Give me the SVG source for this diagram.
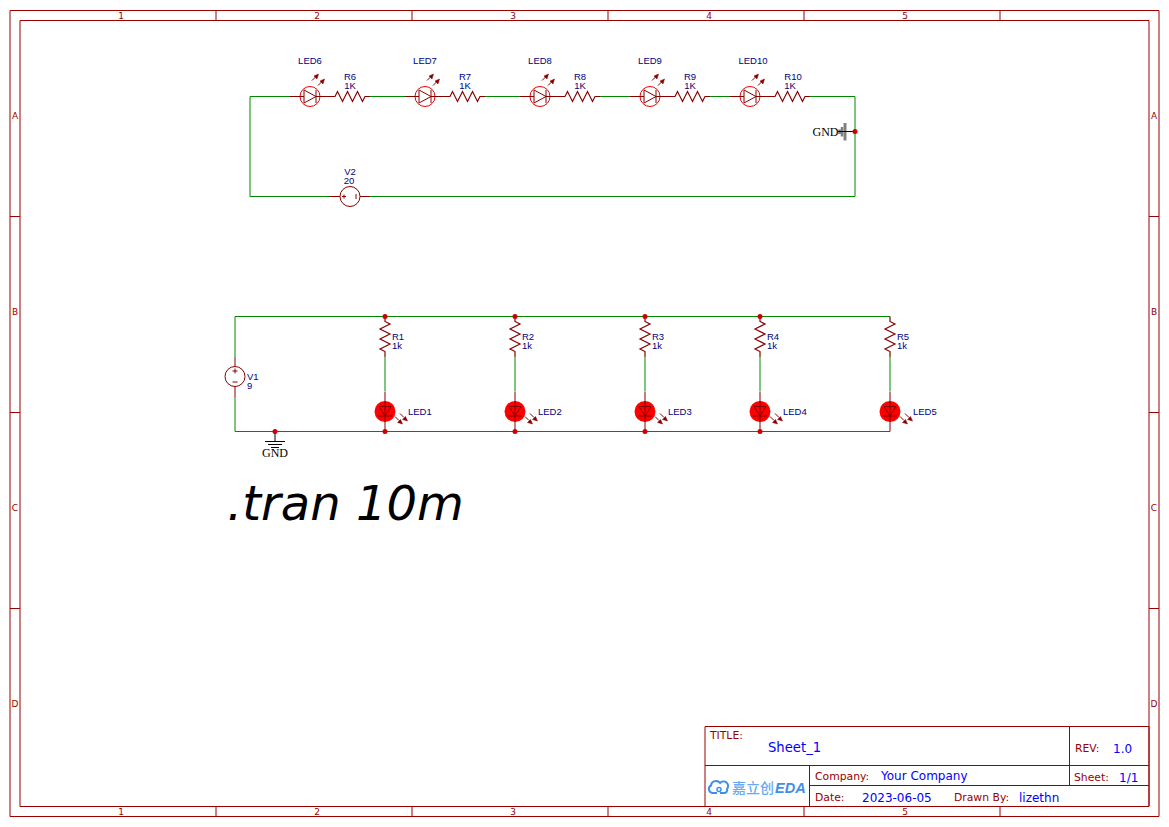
<svg xmlns="http://www.w3.org/2000/svg" width="1169" height="827" viewBox="0 0 1169 827">
<style>
text{font-family:"DejaVu Sans",sans-serif}
.fr{fill:none;stroke:#990000;stroke-width:1}
.fl{fill:#990000;font-size:9px;text-anchor:middle}
.tl{fill:#990000;font-size:10.800px}
.tv{fill:#0000ff;font-size:12px}
.w{fill:none;stroke:#008800;stroke-width:1}
.s{fill:none;stroke:#880000;stroke-width:1}
.z{fill:none;stroke:#880000;stroke-width:1.200}
.c{fill:none;stroke:#ee0000;stroke-width:1}
.ar{fill:#880000;stroke:#880000;stroke-width:.5}
.n{fill:#000080;font-size:9.500px;font-family:"Liberation Sans",Arial,sans-serif}
.nm{text-anchor:middle}
.d{fill:#cc0000}
.g{font-family:"Liberation Serif",serif;font-size:12px;fill:#000}
</style>
<defs>
<g id="led-h">
<circle class="c" cx="0" cy="0" r="10"/>
<path class="s" d="M-20,0H-6M6,0H20M-6,-6.500V6.500L6,0Z"/>
<path class="s" d="M6,-6.500V6.500"/>
<path class="s" d="M2,-16L6,-20M8,-11L12,-15"/>
<path class="ar" d="M8.500,-22.500L7,-17.500L4,-20.500ZM14.500,-17.500L13,-12.500L10,-15.500Z"/>
</g>
<g id="led-v">
<circle cx="0" cy="0" r="10.500" fill="#ff0000"/>
<path class="s" d="M0,-20V20M-6,-5H6L0,4.500ZM-7,4.500H7"/>
<path class="s" d="M10,5L14,9M15,2L19,6"/>
<path class="ar" d="M17.500,12.500L12.500,11L15.500,8ZM22.500,9.500L17.500,8L20.500,5Z"/>
</g>
<path id="res-h" class="z" d="M-5,0H0L2.500,-5L7.500,5L12.500,-5L17.500,5L22.500,-5L27.500,5L30,0H35"/>
<path id="res-v" class="z" d="M0,0V5L5,7.500L-5,12.500L5,17.500L-5,22.500L5,27.500L-5,32.500L0,35V40"/>
</defs>

<g id="frame">
<path class="fr" d="M10,10.500H1159V816.500H10ZM20,20.500H1149V806.500H20Z"/>
<path class="fr" d="M216,10.500V20.500M412,10.500V20.500M608,10.500V20.500M804,10.500V20.500M1000,10.500V20.500M216,806.500V816.500M412,806.500V816.500M608,806.500V816.500M804,806.500V816.500M1000,806.500V816.500M10,216.500H20M10,412.500H20M10,608.500H20M1149,216.500H1159M1149,412.500H1159M1149,608.500H1159"/>
<g class="fl">
<text x="121" y="19">1</text><text x="317" y="19">2</text><text x="513" y="19">3</text><text x="709" y="19">4</text><text x="905" y="19">5</text>
<text x="121" y="815">1</text><text x="317" y="815">2</text><text x="513" y="815">3</text><text x="709" y="815">4</text><text x="905" y="815">5</text>
<text x="15" y="119">A</text><text x="15" y="315">B</text><text x="15" y="511">C</text><text x="15" y="707">D</text>
<text x="1154" y="119">A</text><text x="1154" y="315">B</text><text x="1154" y="511">C</text><text x="1154" y="707">D</text>
</g>
</g>

<g id="title-block">
<path class="fr" d="M705,726.500H1149V806M705,726.500V806"/>
<path class="fr" d="M705,765.500H1149M809.500,785.500H1149M809.500,765.500V806M1069.500,726.500V785.500"/>
<text class="tl" x="710" y="739">TITLE:</text>
<text class="tv" x="768" y="752" style="font-size:13.200px">Sheet_1</text>
<text class="tl" x="1075" y="752">REV:</text>
<text class="tv" x="1113" y="753">1.0</text>
<text class="tl" x="815" y="780">Company:</text>
<text class="tv" x="881" y="779.500">Your Company</text>
<text class="tl" x="1074" y="781">Sheet:</text>
<text class="tv" x="1119" y="782">1/1</text>
<text class="tl" x="815" y="801">Date:</text>
<text class="tv" x="862" y="801.500">2023-06-05</text>
<text class="tl" x="954" y="801">Drawn By:</text>
<text class="tv" x="1019" y="801.500">lizethn</text>
<g id="logo">
<path d="M717,793H712.500A4,4 0 0 1 711,785.500A5,5 0 0 1 720,783A4.500,4.500 0 0 1 727,789A3,3 0 0 1 724,793H720" fill="none" stroke="#3f8fe8" stroke-width="2"/>
<circle cx="719" cy="789.500" r="2" fill="none" stroke="#3f8fe8" stroke-width="1.500"/>
<text x="732" y="793" style="font-family:'Noto Sans CJK SC',sans-serif;font-size:14px;font-weight:500;fill:#6aa8f2">嘉立创</text>
<text x="775" y="793" style="font-family:'Liberation Sans',sans-serif;font-size:14.500px;font-weight:700;font-style:italic;fill:#3f8fe8">EDA</text>
</g>
</g>

<g id="connectors">
<path class="w" d="M290,96.500H250V196.500H330M370,196.500H855V96.500H810M370,96.500H405M485,96.500H520M600,96.500H630M710,96.500H730"/>
<path class="w" d="M235,357V316.500H890M235,397V431.500H890M385,356V391M515,356V391M645,356V391M760,356V391M890,356V391"/>
</g>

<g id="LED6"><use href="#led-h" x="310" y="96.500"/><text class="n nm" x="310" y="64">LED6</text></g>
<g id="R6"><use href="#res-h" x="335" y="96.500"/><text class="n nm" x="350" y="80">R6</text><text class="n nm" x="350" y="89">1K</text></g>
<g id="LED7"><use href="#led-h" x="425" y="96.500"/><text class="n nm" x="425" y="64">LED7</text></g>
<g id="R7"><use href="#res-h" x="450" y="96.500"/><text class="n nm" x="465" y="80">R7</text><text class="n nm" x="465" y="89">1K</text></g>
<g id="LED8"><use href="#led-h" x="540" y="96.500"/><text class="n nm" x="540" y="64">LED8</text></g>
<g id="R8"><use href="#res-h" x="565" y="96.500"/><text class="n nm" x="580" y="80">R8</text><text class="n nm" x="580" y="89">1K</text></g>
<g id="LED9"><use href="#led-h" x="650" y="96.500"/><text class="n nm" x="650" y="64">LED9</text></g>
<g id="R9"><use href="#res-h" x="675" y="96.500"/><text class="n nm" x="690" y="80">R9</text><text class="n nm" x="690" y="89">1K</text></g>
<g id="LED10"><use href="#led-h" x="750" y="96.500"/><text class="n nm" x="753" y="64">LED10</text></g>
<g id="R10"><use href="#res-h" x="775" y="96.500"/><text class="n nm" x="793" y="80">R10</text><text class="n nm" x="790" y="89">1K</text></g>

<g id="GND-top">
<path d="M845,123V140.500" stroke="#808080" stroke-width="3" fill="none"/>
<path d="M842,127V136.500M839.500,129.500V134" stroke="#808080" stroke-width="2.500" fill="none"/>
<path d="M838,131.500H855" stroke="#000" fill="none"/>
<circle class="d" cx="855" cy="131.500" r="2.500"/>
<text class="g" x="812.500" y="136">GND</text>
</g>

<g id="V2">
<circle class="s" cx="350" cy="196.500" r="10"/>
<path class="s" d="M330,196.500H340M360,196.500H370M342,196.500H346M344,194.500V198.500M356,194V199"/>
<text class="n nm" x="350" y="175">V2</text><text class="n nm" x="349" y="184">20</text>
</g>

<g id="V1">
<circle class="s" cx="235" cy="376.500" r="10"/>
<path class="s" d="M235,357V366.500M235,386.500V397M232.500,371H237.500M235,368.500V373.500M232.500,382H237.500"/>
<text class="n" x="247" y="380">V1</text><text class="n" x="247" y="389">9</text>
</g>

<g id="R1"><use href="#res-v" x="385" y="316.500"/><text class="n" x="392" y="340">R1</text><text class="n" x="392" y="349">1k</text></g>
<g id="LED1"><use href="#led-v" x="385" y="411.500"/><text class="n" x="408" y="415">LED1</text></g>
<g id="R2"><use href="#res-v" x="515" y="316.500"/><text class="n" x="522" y="340">R2</text><text class="n" x="522" y="349">1k</text></g>
<g id="LED2"><use href="#led-v" x="515" y="411.500"/><text class="n" x="538" y="415">LED2</text></g>
<g id="R3"><use href="#res-v" x="645" y="316.500"/><text class="n" x="652" y="340">R3</text><text class="n" x="652" y="349">1k</text></g>
<g id="LED3"><use href="#led-v" x="645" y="411.500"/><text class="n" x="668" y="415">LED3</text></g>
<g id="R4"><use href="#res-v" x="760" y="316.500"/><text class="n" x="767" y="340">R4</text><text class="n" x="767" y="349">1k</text></g>
<g id="LED4"><use href="#led-v" x="760" y="411.500"/><text class="n" x="783" y="415">LED4</text></g>
<g id="R5"><use href="#res-v" x="890" y="316.500"/><text class="n" x="897" y="340">R5</text><text class="n" x="897" y="349">1k</text></g>
<g id="LED5"><use href="#led-v" x="890" y="411.500"/><text class="n" x="913" y="415">LED5</text></g>

<g id="GND-bottom">
<path d="M275,431.500V441.500" stroke="#555" stroke-width="1.500" fill="none"/>
<path d="M265,441.500H285M268,444.500H282M271,447.500H279" stroke="#000" fill="none"/>
<text class="g" x="275" y="457" text-anchor="middle">GND</text>
</g>

<g id="junctions">
<circle class="d" cx="385" cy="316.500" r="2.500"/><circle class="d" cx="515" cy="316.500" r="2.500"/><circle class="d" cx="645" cy="316.500" r="2.500"/><circle class="d" cx="760" cy="316.500" r="2.500"/>
<circle class="d" cx="275" cy="431.500" r="2.500"/><circle class="d" cx="385" cy="431.500" r="2.500"/><circle class="d" cx="515" cy="431.500" r="2.500"/><circle class="d" cx="645" cy="431.500" r="2.500"/><circle class="d" cx="760" cy="431.500" r="2.500"/>
</g>

<text id="directive" x="227" y="520" style="font-size:48px;font-style:italic;fill:#000">.tran 10m</text>
</svg>
